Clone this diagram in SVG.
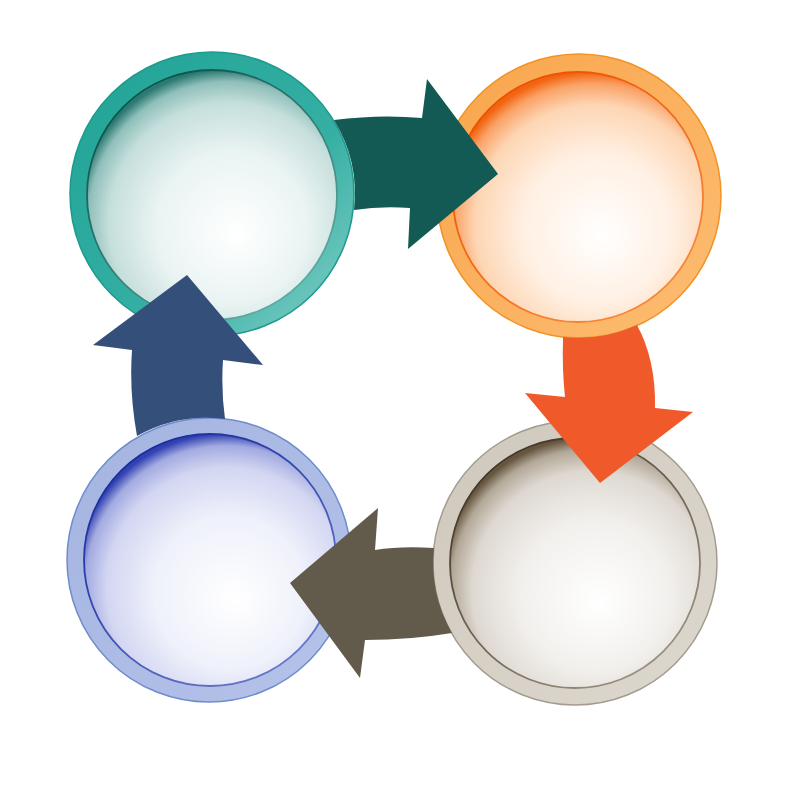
<svg xmlns="http://www.w3.org/2000/svg" width="800" height="800" viewBox="0 0 800 800">
  <defs>
    <linearGradient id="ringTeal" x1="0" y1="0" x2="1" y2="1">
      <stop offset="0" stop-color="#1FA396"/>
      <stop offset="0.6" stop-color="#35AFA3"/>
      <stop offset="1" stop-color="#86D0C9"/>
    </linearGradient>
    <linearGradient id="ringOrange" x1="0" y1="0" x2="1" y2="1">
      <stop offset="0" stop-color="#F9A54C"/>
      <stop offset="1" stop-color="#FDBD72"/>
    </linearGradient>
    <linearGradient id="ringGray" x1="0" y1="0" x2="1" y2="1">
      <stop offset="0" stop-color="#CFC8BC"/>
      <stop offset="1" stop-color="#DDD8CF"/>
    </linearGradient>
    <linearGradient id="ringBlue" x1="0" y1="0" x2="1" y2="1">
      <stop offset="0" stop-color="#A3B4E0"/>
      <stop offset="1" stop-color="#B6C3EA"/>
    </linearGradient>
    <linearGradient id="rimTeal" x1="0.2" y1="0.1" x2="0.8" y2="0.9">
      <stop offset="0" stop-color="#0B544C"/>
      <stop offset="1" stop-color="#5FA9A1"/>
    </linearGradient>
    <linearGradient id="rimOrange" x1="0.2" y1="0.1" x2="0.8" y2="0.9">
      <stop offset="0" stop-color="#EE5000"/>
      <stop offset="1" stop-color="#F7893A"/>
    </linearGradient>
    <linearGradient id="rimGray" x1="0.2" y1="0.1" x2="0.8" y2="0.9">
      <stop offset="0" stop-color="#45382A"/>
      <stop offset="1" stop-color="#9A8E7E"/>
    </linearGradient>
    <linearGradient id="rimBlue" x1="0.2" y1="0.1" x2="0.8" y2="0.9">
      <stop offset="0" stop-color="#1A2C9E"/>
      <stop offset="1" stop-color="#6676C6"/>
    </linearGradient>
    <radialGradient id="sphTeal" cx="0.56" cy="0.6" r="0.6" fx="0.6" fy="0.66">
      <stop offset="0" stop-color="#FFFFFF"/>
      <stop offset="0.5" stop-color="#EAF4F3"/>
      <stop offset="0.8" stop-color="#C6DFDC"/>
      <stop offset="0.93" stop-color="#8FBFBA"/>
      <stop offset="1" stop-color="#2C7A72"/>
    </radialGradient>
    <radialGradient id="sphOrange" cx="0.56" cy="0.6" r="0.6" fx="0.6" fy="0.66">
      <stop offset="0" stop-color="#FFFFFF"/>
      <stop offset="0.5" stop-color="#FFF0E3"/>
      <stop offset="0.8" stop-color="#FDD6B4"/>
      <stop offset="0.93" stop-color="#FAA266"/>
      <stop offset="1" stop-color="#F26410"/>
    </radialGradient>
    <radialGradient id="sphGray" cx="0.56" cy="0.6" r="0.6" fx="0.6" fy="0.66">
      <stop offset="0" stop-color="#FFFFFF"/>
      <stop offset="0.5" stop-color="#F2F0ED"/>
      <stop offset="0.8" stop-color="#DED8D1"/>
      <stop offset="0.93" stop-color="#B3A898"/>
      <stop offset="1" stop-color="#66563F"/>
    </radialGradient>
    <radialGradient id="sphBlue" cx="0.56" cy="0.6" r="0.6" fx="0.6" fy="0.66">
      <stop offset="0" stop-color="#FFFFFF"/>
      <stop offset="0.5" stop-color="#EFF1FB"/>
      <stop offset="0.8" stop-color="#D2D6F1"/>
      <stop offset="0.93" stop-color="#A2AAE1"/>
      <stop offset="1" stop-color="#3242B2"/>
    </radialGradient>
  </defs>
  <style>
    .ring { stroke-width: 1.5; }
    .sphere { stroke-width: 1.8; }
    .arrow { stroke: none; }
  </style>
  <rect width="800" height="800" fill="#FFFFFF"/>

  <g id="node-teal">
    <circle class="ring" cx="212" cy="194" r="142" fill="url(#ringTeal)" stroke="#1C9A8D"/>
    <circle class="sphere" cx="212" cy="195" r="125" fill="url(#sphTeal)" stroke="url(#rimTeal)"/>
  </g>
  <g id="node-orange">
    <circle class="ring" cx="579" cy="196" r="142" fill="url(#ringOrange)" stroke="#F39224"/>
    <circle class="sphere" cx="578" cy="197" r="125" fill="url(#sphOrange)" stroke="url(#rimOrange)"/>
  </g>
  <g id="node-gray">
    <circle class="ring" cx="575" cy="563" r="142" fill="url(#ringGray)" stroke="#A39C8E"/>
    <circle class="sphere" cx="575" cy="563" r="125" fill="url(#sphGray)" stroke="url(#rimGray)"/>
  </g>
  <g id="node-blue">
    <circle class="ring" cx="209" cy="560" r="142" fill="url(#ringBlue)" stroke="#6F8CCC"/>
    <circle class="sphere" cx="210" cy="560" r="126" fill="url(#sphBlue)" stroke="url(#rimBlue)"/>
  </g>

  <g id="connectors">
    <path id="arrow-teal" class="arrow" fill="#125A53"
      d="M 334 120 Q 380 114 422 118 L 427 79 L 498 174 L 408 249 L 410 208 Q 380 206 354 210 A 142 142 0 0 0 334 120 Z"/>
    <path id="arrow-orange" class="arrow" fill="#F05A2A"
      d="M 563 337 Q 562 370 565 397 L 525 393 L 600 483 L 693 412 L 655 408 Q 656 360 637 325 A 142 142 0 0 1 563 337 Z"/>
    <path id="arrow-brown" class="arrow" fill="#625A4A"
      d="M 434 548 Q 400 546 375 550 L 378 508 L 290 583 L 360 678 L 365 640 Q 410 640 452 633 A 142 142 0 0 1 434 548 Z"/>
    <path id="arrow-blue" class="arrow" fill="#344F7A"
      d="M 137 436 Q 129 392 132 350 L 93 345 L 187 275 L 263 365 L 223 360 Q 221 390 225 419 A 142 142 0 0 0 137 436 Z"/>
  </g>
</svg>
